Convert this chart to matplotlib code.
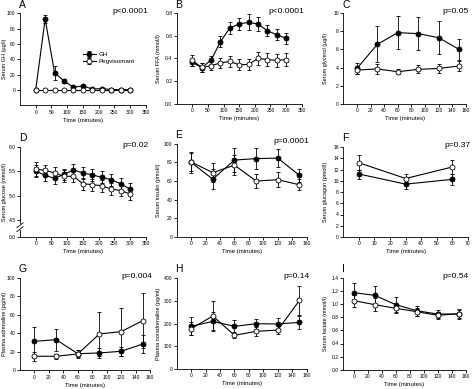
import numpy as np
import matplotlib
matplotlib.use("Agg")
from matplotlib import pyplot as plt

plt.rcParams["font.family"] = ["Liberation Sans", "DejaVu Sans"]

# ---- data ----
t300 = [0, 30, 60, 90, 120, 150, 180, 210, 240, 270, 300]
t150 = [0, 30, 60, 90, 120, 150]
t60 = [0, 30, 60]

# A: serum GH
gh_gh = [0.3, 92.5, 22.5, 11.8, 3.6, 5.2, 1.3, 1.7, 0.6, 0.5, 0.5]
gh_gh_err = [0.3, 5, 9, 3, 1, 1.5, 0.6, 0.8, 0.3, 0.3, 0.3]
gh_peg = [0.3, 0.3, 0.3, 0.3, 0.3, 0.3, 0.3, 0.3, 0.3, 0.3, 0.3]
gh_peg_err = [0.1] * 11

# B: serum FFA
ffa_gh = [0.367, 0.317, 0.385, 0.548, 0.670, 0.705, 0.720, 0.705, 0.646, 0.610, 0.578]
ffa_gh_err = [0.03, 0.04, 0.04, 0.05, 0.05, 0.05, 0.07, 0.06, 0.05, 0.05, 0.05]
ffa_peg = [0.382, 0.320, 0.335, 0.360, 0.373, 0.343, 0.347, 0.400, 0.390, 0.382, 0.390]
ffa_peg_err = [0.05, 0.04, 0.04, 0.045, 0.05, 0.05, 0.05, 0.06, 0.06, 0.06, 0.06]

# C: serum glycerol
gly_gh = [3.9, 6.57, 7.86, 7.75, 7.3, 6.0]
gly_gh_err = [0.6, 2.0, 1.8, 1.8, 1.8, 1.2]
gly_peg = [3.73, 3.84, 3.54, 3.8, 3.9, 4.17]
gly_peg_err = [0.4, 0.5, 0.3, 0.45, 0.45, 0.6]

# D: serum glucose
glu_gh = [5.51, 5.42, 5.36, 5.44, 5.53, 5.47, 5.43, 5.38, 5.33, 5.25, 5.14]
glu_gh_err = [0.12, 0.12, 0.12, 0.12, 0.13, 0.13, 0.12, 0.12, 0.12, 0.12, 0.12]
glu_peg = [5.55, 5.52, 5.47, 5.40, 5.40, 5.25, 5.23, 5.21, 5.14, 5.11, 5.04]
glu_peg_err = [0.14, 0.12, 0.12, 0.12, 0.12, 0.12, 0.12, 0.12, 0.12, 0.12, 0.12]

# E: serum insulin
ins_gh = [80, 62, 82.5, 84, 84.6, 66]
ins_gh_err = [11, 11, 13, 11, 10, 7]
ins_peg = [80.4, 69, 77, 60, 61.4, 56]
ins_peg_err = [10, 10, 11, 7, 8, 6]

# F: serum glucagon
glc_gh = [11.2, 9.4, 10.25]
glc_gh_err = [0.8, 0.8, 1.0]
glc_peg = [13.2, 10.4, 12.45]
glc_peg_err = [1.3, 0.8, 1.2]

# G: plasma adrenaline
adr_gh = [31.4, 33.2, 18.0, 18.8, 20.6, 28.5]
adr_gh_err = [16, 12, 4, 5, 5, 10]
adr_peg = [15.2, 15.2, 17.7, 39.4, 41.9, 53.8]
adr_peg_err = [5, 3, 4, 24, 26, 30]

# H: plasma noradrenaline
nor_gh = [187.5, 209.5, 187.5, 199, 198, 205]
nor_gh_err = [40, 40, 27, 22, 25, 30]
nor_peg = [177, 233, 148, 165.6, 171, 302]
nor_peg_err = [28, 68, 10, 20, 18, 65]

# I: serum lactate
lac_gh = [1.176, 1.135, 0.993, 0.90, 0.85, 0.85]
lac_gh_err = [0.15, 0.14, 0.11, 0.08, 0.06, 0.07]
lac_peg = [1.054, 0.993, 0.937, 0.886, 0.83, 0.855]
lac_peg_err = [0.09, 0.10, 0.07, 0.06, 0.05, 0.06]

W, H = 474, 389
fig = plt.figure(figsize=(W / 100, H / 100), dpi=100)


def make_ax(left, right, top, bottom):
    return fig.add_axes([left / W, 1 - bottom / H, (right - left) / W, (bottom - top) / H])


def style(ax, xlim, xticks, ylim, yticks, ylabel, letter, ptext, lab_off=14):
    ax.set_xlim(*xlim)
    ax.set_ylim(*ylim)
    ax.set_xticks(xticks)
    ax.set_yticks(yticks)
    for s in ["top", "right"]:
        ax.spines[s].set_visible(False)
    for s in ["left", "bottom"]:
        ax.spines[s].set_linewidth(0.6)
    ax.spines["bottom"].set_bounds(xlim[0], xticks[-1])
    ax.spines["left"].set_bounds(ylim[0], yticks[-1])
    ax.tick_params(length=2, width=0.6, labelsize=3.6, pad=1.2)
    ax.set_xlabel("Time (minutes)", fontsize=4.3, labelpad=2)
    ax.set_ylabel(ylabel, fontsize=4.0)
    # place the y label a fixed number of pixels left of the spine
    w_px = ax.get_position().width * W
    ax.yaxis.set_label_coords(-lab_off / w_px, 0.5)
    ax.text(-0.01, 1.04, letter, transform=ax.transAxes, fontsize=7.5,
            ha="left", va="bottom")
    ax.text(1.02, 1.02, ptext, transform=ax.transAxes, fontsize=6,
            ha="right", va="center")


def series(ax, x, gh, gh_err, peg, peg_err):
    kw = dict(color="black", lw=0.8, elinewidth=0.6, capsize=1.6, capthick=0.6,
              markersize=3.6, markeredgewidth=0.6)
    ax.errorbar(x, gh, yerr=gh_err, fmt="-o", markerfacecolor="black",
                label="GH", zorder=3, **kw)
    ax.errorbar(x, peg, yerr=peg_err, fmt="-o", markerfacecolor="white",
                label="Pegvisomant", zorder=4, **kw)


t_ticks350 = [0, 50, 100, 150, 200, 250, 300, 350]
t_ticks160 = [0, 20, 40, 60, 80, 100, 120, 140, 160]

# A
ax = make_ax(20, 145.7, 13.3, 105.3)
series(ax, t300, gh_gh, gh_gh_err, gh_peg, gh_peg_err)
style(ax, (-50, 350), t_ticks350, (-20, 100), [0, 20, 40, 60, 80, 100],
      "Serum GH (\u00b5g/l)", "A", "p<0.0001", lab_off=13)
ax.legend(loc="upper left", bbox_to_anchor=(80 / W, 1 - 48.5 / H),
          bbox_transform=fig.transFigure, frameon=False, fontsize=4.5,
          handlelength=2.0, handletextpad=0.5, labelspacing=0.25, borderpad=0)

# B
ax = make_ax(176.7, 301.7, 13.3, 103.5)
series(ax, t300, ffa_gh, ffa_gh_err, ffa_peg, ffa_peg_err)
style(ax, (-50, 350), t_ticks350, (0, 0.8), [0.0, 0.2, 0.4, 0.6, 0.8],
      "Serum FFA (mmol/l)", "B", "p<0.0001", lab_off=16)
ax.set_yticklabels(["0.0", "0.2", "0.4", "0.6", "0.8"])

# C
ax = make_ax(343.3, 466, 13.3, 103.7)
series(ax, t150, gly_gh, gly_gh_err, gly_peg, gly_peg_err)
style(ax, (-20, 160), t_ticks160, (0, 10), [0, 2, 4, 6, 8, 10],
      "Serum glycerol (\u00b5g/l)", "C", "p=0.05", lab_off=15)

# D (broken y axis)
ax = make_ax(20, 145.7, 147, 237)
series(ax, t300, glu_gh, glu_gh_err, glu_peg, glu_peg_err)
ybot = 4.16
style(ax, (-50, 350), t_ticks350, (ybot, 6.0), [ybot, 4.5, 5.0, 5.5, 6.0],
      "Serum glucose (mmol/l)", "D", "p=0.02", lab_off=13)
ax.set_yticklabels(["0.0", "4.5", "5.0", "5.5", "6.0"])
ax.spines["left"].set_bounds(4.44, 6.0)
trans = ax.get_yaxis_transform()
ax.plot([0, 0], [ybot, 4.31], transform=trans, color="black", lw=0.6, clip_on=False)
for yb in (4.31, 4.39):
    ax.plot([-0.025, 0.025], [yb - 0.04, yb + 0.06], transform=trans,
            color="black", lw=0.6, clip_on=False)

# E
ax = make_ax(176.7, 306.7, 143.7, 237)
series(ax, t150, ins_gh, ins_gh_err, ins_peg, ins_peg_err)
style(ax, (-20, 160), t_ticks160, (0, 100), [0, 20, 40, 60, 80, 100],
      "Serum insulin (pmol/l)", "E", "p=0.0001", lab_off=16)

# F
ax = make_ax(343.3, 468, 147, 237)
series(ax, t60, glc_gh, glc_gh_err, glc_peg, glc_peg_err)
style(ax, (-10, 70), [0, 10, 20, 30, 40, 50, 60, 70], (0, 16),
      [0, 2, 4, 6, 8, 10, 12, 14, 16], "Serum glucagon (pmol/l)", "F", "p=0.37",
      lab_off=15)

# G
ax = make_ax(20, 150, 278, 370.3)
series(ax, t150, adr_gh, adr_gh_err, adr_peg, adr_peg_err)
style(ax, (-20, 160), t_ticks160, (0, 100), [0, 20, 40, 60, 80, 100],
      "Plasma adrenaline (pg/ml)", "G", "p=0.004", lab_off=13)

# H
ax = make_ax(176.7, 306.7, 278, 369)
series(ax, t150, nor_gh, nor_gh_err, nor_peg, nor_peg_err)
style(ax, (-20, 160), t_ticks160, (0, 400), [0, 100, 200, 300, 400],
      "Plasma noradrenaline (pg/ml)", "H", "p=0.14", lab_off=16)

# I
ax = make_ax(343.3, 465.7, 278, 369.7)
series(ax, t150, lac_gh, lac_gh_err, lac_peg, lac_peg_err)
style(ax, (-15, 160), t_ticks160, (0, 1.4), [0.0, 0.2, 0.4, 0.6, 0.8, 1.0, 1.2, 1.4],
      "Serum lactate (mmol/l)", "I", "p=0.54", lab_off=15)
ax.set_yticklabels(["0.0", "0.2", "0.4", "0.6", "0.8", "1.0", "1.2", "1.4"])

fig.savefig("out.png", dpi=100)
